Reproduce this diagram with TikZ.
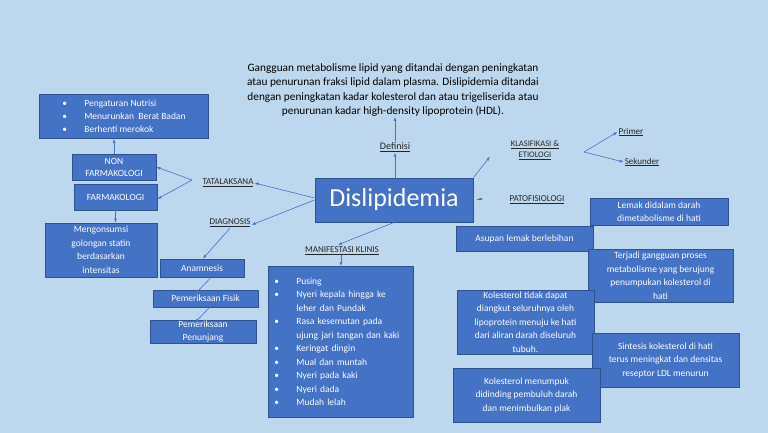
\documentclass[tikz,border=0pt]{standalone}
\usepackage{fontspec}
\setmainfont{Carlito}
\usetikzlibrary{arrows.meta}
\definecolor{bg}{HTML}{BDD7EE}
\definecolor{boxf}{HTML}{4472C4}
\definecolor{boxd}{HTML}{2F528F}
\tikzset{
 bx/.style={draw=boxd,line width=0.9pt,fill=boxf,text=white,font=\fontsize{9.5}{12}\selectfont,align=center,inner sep=1pt,minimum width=#1},
 lbl/.style={font=\fontsize{9}{10}\selectfont,text=black!85,align=center,inner sep=1pt},
 ar/.style={draw=boxf,line width=0.6pt,-{Latex[length=4pt,width=3pt]}}
}
\newcommand{\bl}{\makebox[22pt][l]{\textbullet}}
\newcommand{\nb}{\makebox[22pt][l]{}}
\begin{document}
\begin{tikzpicture}[x=1pt,y=-1pt]
\fill[bg] (0,0) rectangle (768,433);
\useasboundingbox (0,0) rectangle (768,433);
% main
\node[bx=158,minimum height=44,font=\fontsize{26}{28}\selectfont] (main) at (394,200) {Dislipidemia};
\node[font=\fontsize{11.3}{14.5}\selectfont,align=center,inner sep=0] (def) at (393,90) {Gangguan metabolisme lipid yang ditandai dengan peningkatan\\atau penurunan fraksi lipid dalam plasma. Dislipidemia ditandai\\dengan peningkatan kadar kolesterol dan atau trigeliserida atau\\penurunan kadar high-density lipoprotein (HDL).};
\node[lbl,font=\fontsize{10}{11}\selectfont] (defn) at (395,147) {\underline{Definisi}};
\node[lbl] (tata) at (228,183) {\underline{TATALAKSANA}};
\node[lbl] (diag) at (230,223) {\underline{DIAGNOSIS}};
\node[lbl] (mani) at (342,251) {\underline{MANIFESTASI KLINIS}};
\node[lbl,font=\fontsize{8.5}{11}\selectfont] (klas) at (535,150) {\underline{KLASIFIKASI \&}\\\underline{ETIOLOGI}};
\node[lbl] (prim) at (631,132) {\underline{Primer}};
\node[lbl] (sek) at (642,162) {\underline{Sekunder}};
\node[lbl] (pato) at (537,200) {\underline{PATOFISIOLOGI}};
% left boxes
\node[bx=169,minimum height=44,align=left,anchor=north west,inner xsep=6pt,font=\fontsize{9.5}{13}\selectfont] (nonf) at (39,94) {\bl Pengaturan Nutrisi\\\bl Menurunkan\ \ Berat Badan\\\bl Berhenti merokok};
\node[bx=84,minimum height=26] (non) at (114,167) {NON\\FARMAKOLOGI};
\node[bx=83,minimum height=26] (farm) at (115.5,197) {FARMAKOLOGI};
\node[bx=112,minimum height=54,font=\fontsize{9.5}{13.5}\selectfont] (meng) at (101,250) {Mengonsumsi\\golongan statin\\berdasarkan\\intensitas};
\node[bx=84,minimum height=18] (anam) at (202,268) {Anamnesis};
\node[bx=105,minimum height=17] (fis) at (205.5,298.5) {Pemeriksaan Fisik};
\node[bx=106,minimum height=23,font=\fontsize{9.5}{12.5}\selectfont] (pen) at (203,331.5) {Pemeriksaan\\Penunjang};
\node[bx=145,minimum height=151,align=left,anchor=north west,inner xsep=6pt,inner ysep=4pt,font=\fontsize{9.5}{13.5}\selectfont,text width=133pt] (manb) at (268,266) {\bl Pusing\\\bl Nyeri kepala hingga ke\\\nb leher dan Pundak\\\bl Rasa kesemutan pada\\\nb ujung jari tangan dan kaki\\\bl Keringat dingin\\\bl Mual dan muntah\\\bl Nyeri pada kaki\\\bl Nyeri dada\\\bl Mudah lelah};
% right boxes
\node[bx=138,minimum height=27,font=\fontsize{9.5}{13}\selectfont] (lemak) at (659,211.5) {Lemak didalam darah\\dimetabolisme di hati};
\node[bx=137,minimum height=25] (asup) at (524.5,238.5) {Asupan lemak berlebihan};
\node[bx=145,minimum height=53,font=\fontsize{9.5}{13.5}\selectfont] (terj) at (660.5,275.5) {Terjadi gangguan proses\\metabolisme yang berujung\\penumpukan kolesterol di\\hati};
\node[bx=137,minimum height=64,font=\fontsize{9.5}{13.5}\selectfont] (kol) at (525.5,322) {Kolesterol tidak dapat\\diangkut seluruhnya oleh\\lipoprotein menuju ke hati\\dari aliran darah diseluruh\\tubuh.};
\node[bx=147,minimum height=54,font=\fontsize{9.5}{13.5}\selectfont] (sint) at (665.5,360) {Sintesis kolesterol di hati\\terus meningkat dan densitas\\reseptor LDL menurun};
\node[bx=147,minimum height=54,font=\fontsize{9.5}{13.5}\selectfont] (kmen) at (526.5,395) {Kolesterol menumpuk\\didinding pembuluh darah\\dan menimbulkan plak};
% connectors
\draw[ar] (main.north -| defn) -- (defn.south);
\draw[ar] (defn.north) -- (def.south -| defn);
\draw[ar] (main.west) ++(0,-2) -- (tata.east);
\draw[ar] (main.west) -- ([yshift=-7]diag.north east);
\draw[ar] (main.south) -- ([yshift=1,xshift=-4]mani.north);
\draw[ar] (mani.south -| manb.north) ++(0,-1) -- (manb.north);
\draw[ar] (main.north east) -- ([xshift=-45,yshift=4]klas.south);
\draw[ar] (main.east) ++(4,-1) -- ++(6,0);
\coordinate (kv) at (584,152);
\draw[ar] (kv) -- (prim.west);
\draw[ar] (kv) -- (sek.west);
\coordinate (tv) at (192,180);
\draw[ar] (tv) -- (non.east);
\draw[ar] (tv) -- ([yshift=-2]farm.east);
\draw[ar] (non.north) -- (nonf.south -| non.north);
\draw[ar] (farm.south) -- (meng.north -| farm.south);
\draw[ar] (diag.south) -- ([xshift=1]anam.north);
\draw[ar] ([xshift=9]anam.south) -- ([xshift=-10,yshift=-4]fis.north);
\draw[ar] ([xshift=4]fis.south) -- ([xshift=-8,yshift=-3]pen.north);
\end{tikzpicture}
\end{document}
